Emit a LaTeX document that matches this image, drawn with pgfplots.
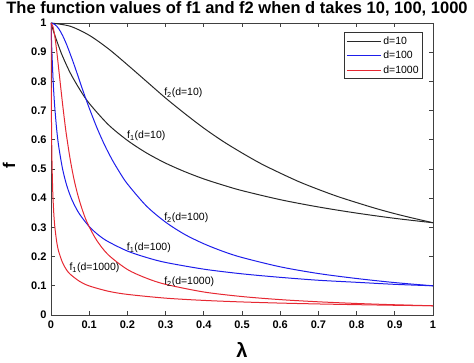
\documentclass[border=0pt]{standalone}
\usepackage{pgfplots}
\pgfplotsset{compat=1.18}
\usepackage{fontspec}
\setmainfont{Liberation Sans}
\definecolor{cblack}{RGB}{40,40,40}
\definecolor{cblue}{RGB}{30,30,235}
\definecolor{cred}{RGB}{230,40,50}
\begin{document}
\begin{tikzpicture}[x=1pt,y=1pt]
\useasboundingbox (-51,-47) rectangle (423,315);
\begin{axis}[
  at={(0,0)}, anchor=south west,
  scale only axis, width=382pt, height=292pt,
  xmin=0, xmax=1, ymin=0, ymax=1,
  xtick={0,0.1,0.2,0.3,0.4,0.5,0.6,0.7,0.8,0.9,1},
  ytick={0,0.1,0.2,0.3,0.4,0.5,0.6,0.7,0.8,0.9,1},
  xticklabels={0,0.1,0.2,0.3,0.4,0.5,0.6,0.7,0.8,0.9,1},
  yticklabels={0,0.1,0.2,0.3,0.4,0.5,0.6,0.7,0.8,0.9,1},
  tick align=inside, major tick length=4pt,
  axis line style={draw=black!75, line width=0.8pt},
  tick style={black!75, line width=0.8pt},
  tick label style={font=\bfseries\fontsize{11}{12}\selectfont, text=black},
  xticklabel style={yshift=-2pt},
  yticklabel style={xshift=-1pt},
  legend style={at={(0.974,0.969)}, anchor=north east, draw=black!80, line width=0.8pt,
     font=\fontsize{10.5}{12}\selectfont, inner sep=2pt, row sep=1.5pt, cells={anchor=west}},
  legend image code/.code={\draw[#1, line width=1pt] (0pt,0pt) -- (34pt,0pt);},
  every axis plot/.append style={line width=1pt, smooth, tension=0.5},
  clip=true,
]
% f1, d=10
\addplot[cblack] coordinates {
(0,1) (0.005,0.978) (0.01,0.958) (0.02,0.921) (0.03,0.887) (0.05,0.830) (0.075,0.773)
(0.1,0.725) (0.15,0.652) (0.2,0.598) (0.25,0.555) (0.3,0.520) (0.35,0.491) (0.4,0.466) (0.45,0.445) (0.5,0.426)
(0.6,0.395) (0.7,0.370) (0.8,0.349) (0.9,0.331) (1.0,0.316)};
\addlegendentry{d=10}
% f1, d=100
\addplot[cblue] coordinates {
(0,1) (0.001,0.954) (0.002,0.914) (0.005,0.818) (0.0075,0.757) (0.01,0.709) (0.015,0.634) (0.02,0.579)
(0.03,0.502) (0.04,0.449) (0.05,0.410) (0.06,0.380) (0.075,0.345) (0.1,0.303) (0.125,0.273) (0.15,0.251)
(0.2,0.219) (0.25,0.197) (0.3,0.180) (0.4,0.157) (0.5,0.141) (0.6,0.129) (0.7,0.119)
(0.8,0.112) (0.9,0.105) (1.0,0.100)};
\addlegendentry{d=100}
% f1, d=1000
\addplot[cred] coordinates {
(0,1) (0.0001,0.953) (0.0002,0.913) (0.0005,0.817) (0.00075,0.757) (0.001,0.707) (0.0015,0.633) (0.002,0.578) (0.003,0.500)
(0.004,0.447) (0.005,0.408) (0.0075,0.343) (0.01,0.302) (0.015,0.250) (0.02,0.218) (0.03,0.180)
(0.04,0.156) (0.05,0.140) (0.075,0.115) (0.1,0.0996) (0.15,0.0814) (0.2,0.0706)
(0.3,0.0577) (0.4,0.0500) (0.5,0.0447) (0.6,0.0408) (0.7,0.0378) (0.8,0.0354) (0.9,0.0333) (1.0,0.0316)};
\addlegendentry{d=1000}
% f2, d=10
\addplot[cblack, forget plot] coordinates {
(0,1) (0.05,0.989) (0.1,0.958) (0.15,0.912) (0.2,0.857) (0.25,0.800) (0.3,0.743) (0.35,0.690)
(0.4,0.640) (0.45,0.595) (0.5,0.555) (0.55,0.518) (0.6,0.486) (0.65,0.456) (0.7,0.430) (0.75,0.406) (0.8,0.385)
(0.85,0.365) (0.9,0.347) (0.95,0.331) (1.0,0.316)};
% f2, d=100
\addplot[cblue, forget plot] coordinates {
(0,1) (0.01,0.995) (0.02,0.981) (0.03,0.958) (0.04,0.929) (0.05,0.895) (0.06,0.859) (0.07,0.821)
(0.08,0.782) (0.09,0.745) (0.1,0.709) (0.12,0.642) (0.14,0.583) (0.16,0.532) (0.18,0.488) (0.2,0.449)
(0.25,0.373) (0.3,0.318) (0.35,0.276) (0.4,0.244) (0.45,0.218) (0.5,0.197) (0.6,0.165) (0.7,0.142)
(0.8,0.125) (0.9,0.111) (1.0,0.100)};
% f2, d=1000
\addplot[cred, forget plot] coordinates {
(0,1) (0.005,0.988) (0.01,0.954) (0.015,0.904) (0.02,0.845) (0.025,0.785) (0.03,0.726) (0.035,0.671)
(0.04,0.620) (0.05,0.535) (0.06,0.466) (0.07,0.412) (0.08,0.368) (0.09,0.331) (0.1,0.302) (0.12,0.255)
(0.15,0.206) (0.2,0.156) (0.25,0.126) (0.3,0.105) (0.4,0.0788) (0.5,0.0632) (0.6,0.0527)
(0.7,0.0452) (0.8,0.0395) (0.9,0.0351) (1.0,0.0316)};
\node[anchor=west, font=\fontsize{10.5}{12}\selectfont, inner sep=0pt] at (axis cs:0.296,0.761) {f\textsubscript{2}(d=10)};
\node[anchor=west, font=\fontsize{10.5}{12}\selectfont, inner sep=0pt] at (axis cs:0.199,0.613) {f\textsubscript{1}(d=10)};
\node[anchor=west, font=\fontsize{10.5}{12}\selectfont, inner sep=0pt] at (axis cs:0.296,0.333) {f\textsubscript{2}(d=100)};
\node[anchor=west, font=\fontsize{10.5}{12}\selectfont, inner sep=0pt] at (axis cs:0.198,0.229) {f\textsubscript{1}(d=100)};
\node[anchor=west, font=\fontsize{10.5}{12}\selectfont, inner sep=0pt] at (axis cs:0.048,0.161) {f\textsubscript{1}(d=1000)};
\node[anchor=west, font=\fontsize{10.5}{12}\selectfont, inner sep=0pt] at (axis cs:0.296,0.113) {f\textsubscript{2}(d=1000)};
\end{axis}
\node[font=\bfseries\fontsize{16.5}{18}\selectfont, inner sep=0pt] at (186,306.5) {The function values of f1 and f2 when d takes 10, 100, 1000};
\node[font=\bfseries\fontsize{17}{20}\selectfont, inner sep=0pt, rotate=90] at (-42,149) {f};
\node[font=\bfseries\fontsize{20}{22}\selectfont, inner sep=0pt] at (191,-35) {λ};
\end{tikzpicture}
\end{document}
